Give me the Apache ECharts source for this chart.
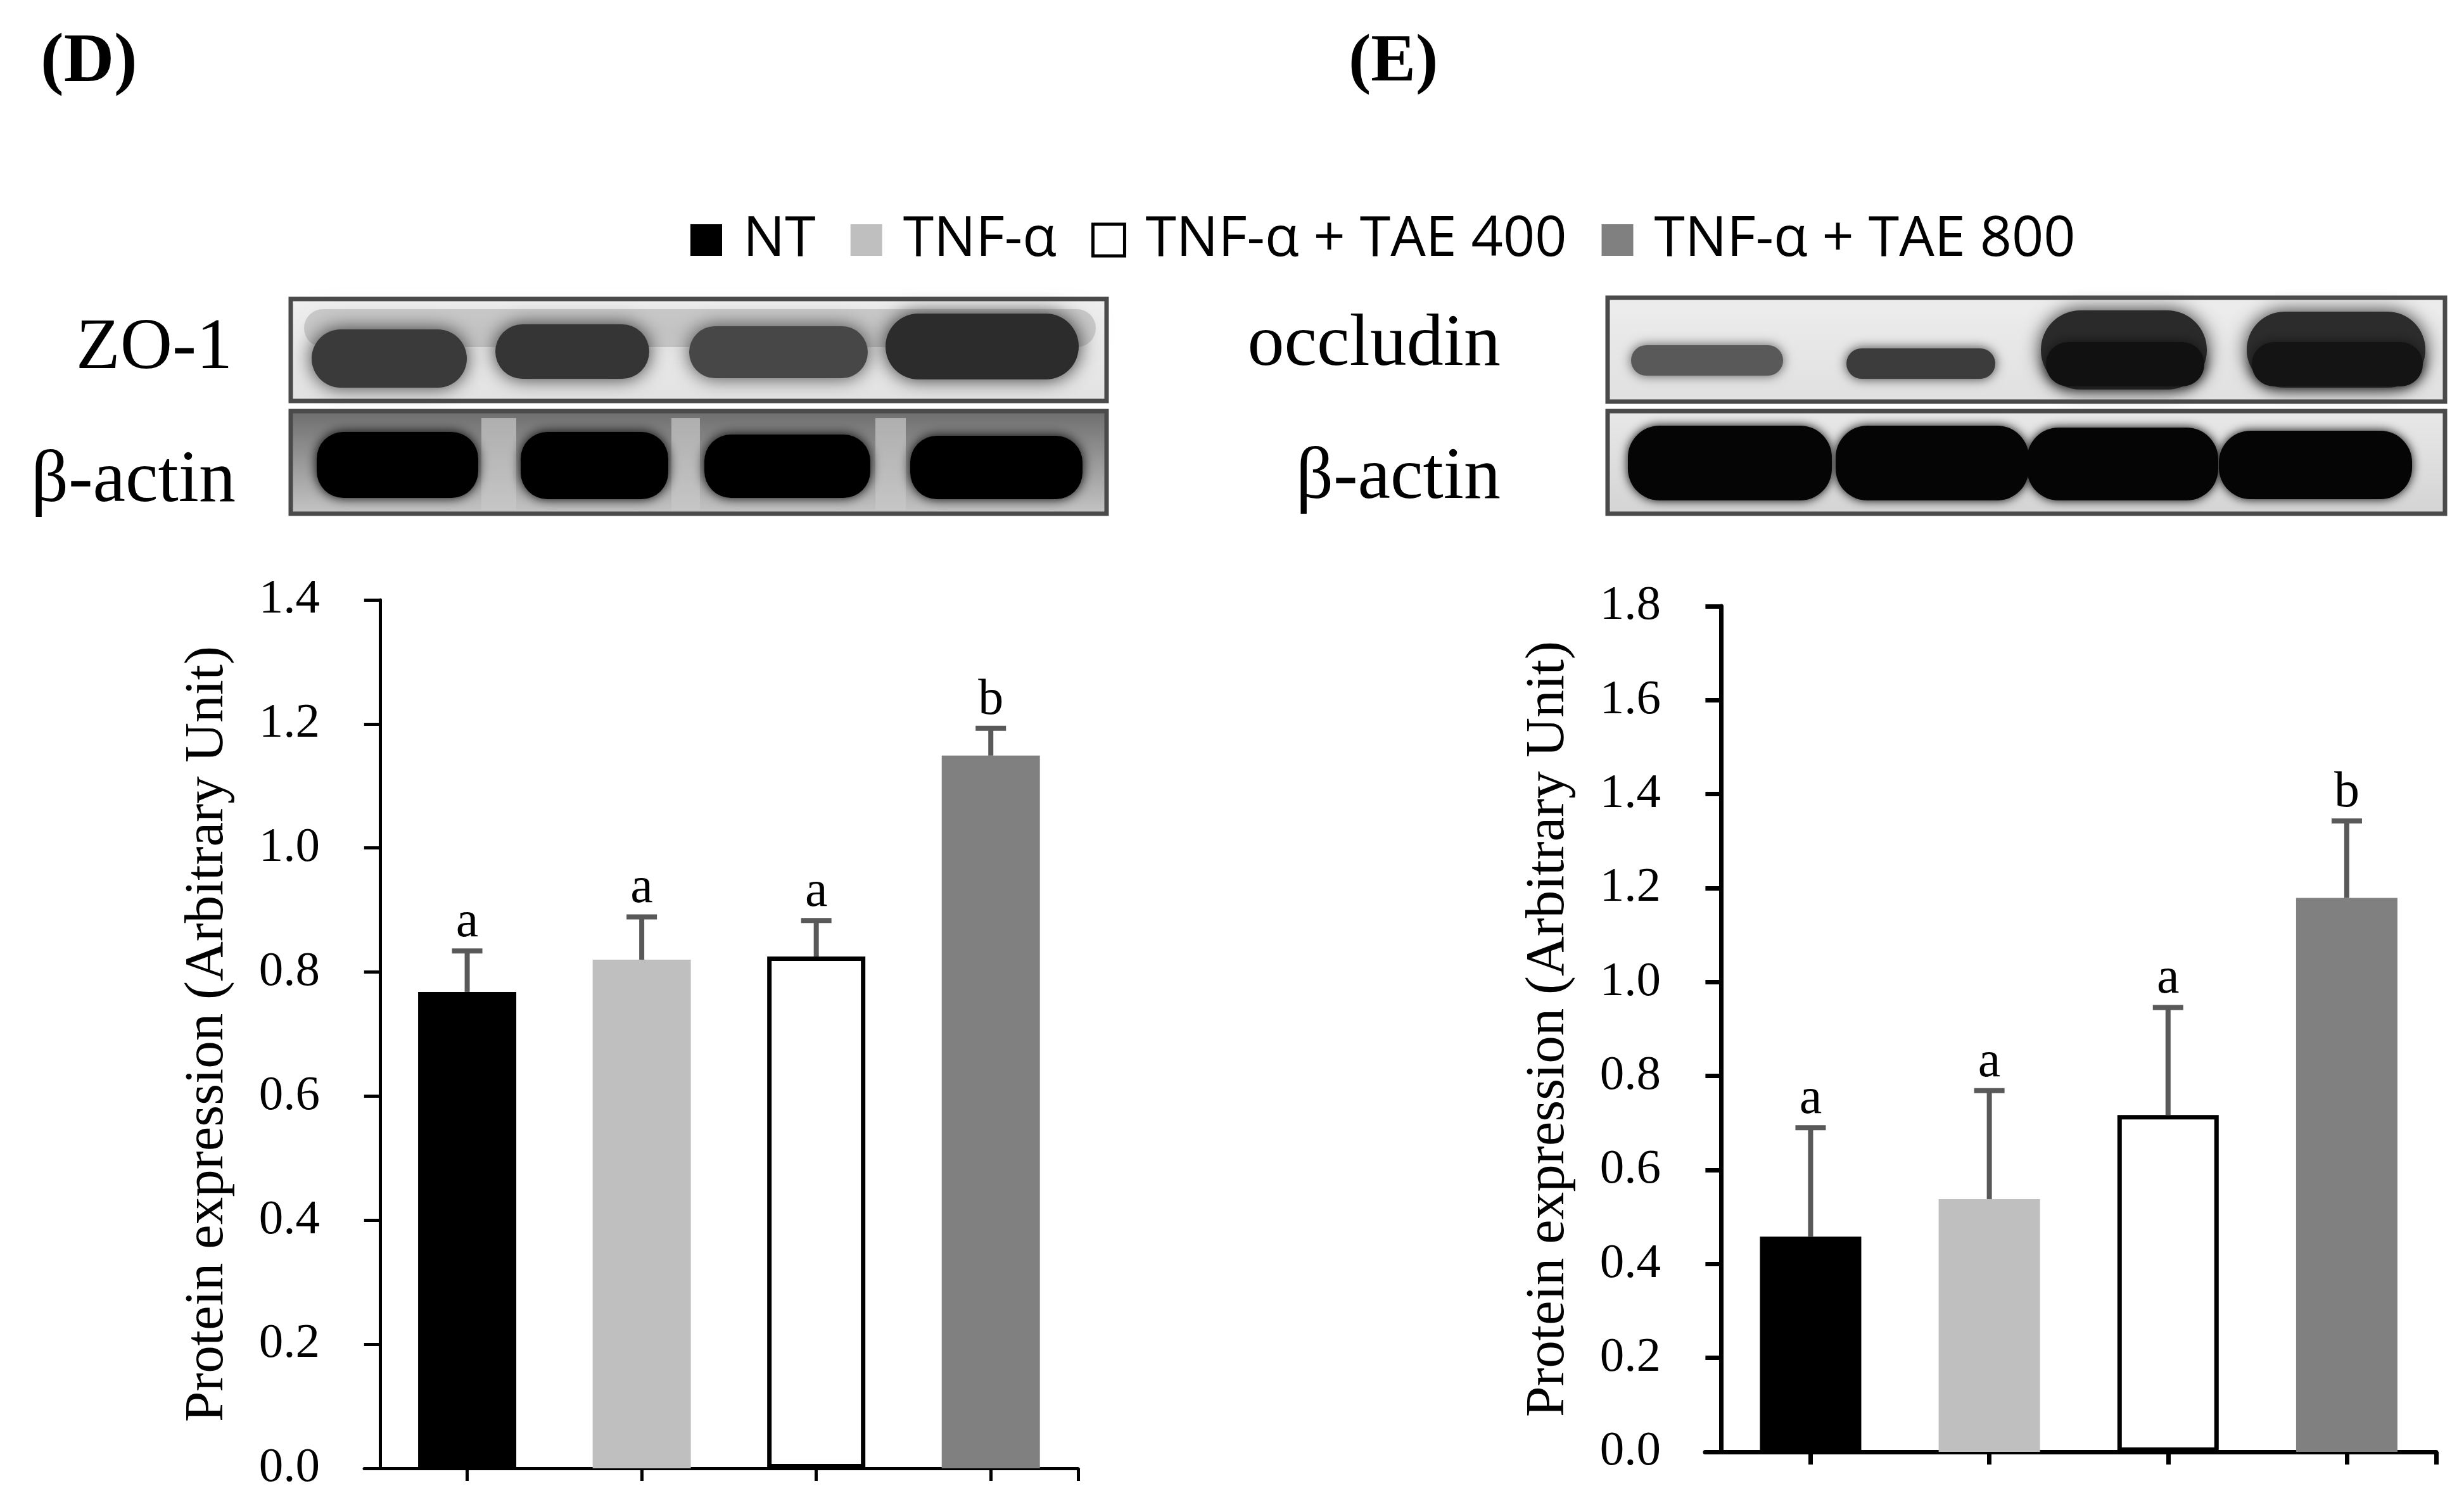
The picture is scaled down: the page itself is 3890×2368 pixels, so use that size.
<!DOCTYPE html>
<html><head><meta charset="utf-8">
<script src="https://cdn.jsdelivr.net/npm/echarts@6/dist/echarts.min.js"></script>
<style>html,body{margin:0;padding:0;background:#fff}#c{width:3890px;height:2368px}</style>
</head><body><div id="c"></div>
<script>
// ---- data ----
var groups = ['NT', 'TNF-α', 'TNF-α + TAE 400', 'TNF-α + TAE 800'];
var positions = [0.5, 1.5, 2.5, 3.5];
var zo1Mean = [0.768, 0.820, 0.825, 1.149];
var zo1Err = [0.066, 0.069, 0.058, 0.044];
var zo1Letters = ['a', 'a', 'a', 'b'];
var occMean = [0.458, 0.538, 0.717, 1.179];
var occErr = [0.232, 0.231, 0.229, 0.164];
var occLetters = ['a', 'a', 'a', 'b'];
var zo1Axis = { min: 0, max: 1.4, interval: 0.2 };
var occAxis = { min: 0, max: 1.8, interval: 0.2 };
var xTickValues = [0.5, 1.5, 2.5, 3.5, 4];
var yTitle = 'Protein expression (Arbitrary Unit)';

var fills = ['#000000', '#BFBFBF', '#FFFFFF', '#808080'];
var SERIF = 'Liberation Serif';

function barSeries(ci, means, bw) {
  return groups.map(function (name, i) {
    return {
      type: 'bar', name: name, xAxisIndex: ci, yAxisIndex: ci,
      barWidth: bw, barGap: '-100%',
      data: [[positions[i], means[i]]],
      itemStyle: { color: fills[i], borderColor: i === 2 ? '#000' : fills[i], borderWidth: i === 2 ? 7 : 0 },
      z: 2, silent: true
    };
  });
}
function errSeries(ci, means, errs, letters, lw) {
  return {
    type: 'custom', xAxisIndex: ci, yAxisIndex: ci, z: 5, silent: true,
    data: means.map(function (m, i) { return [positions[i], m, errs[i]]; }),
    encode: { x: 0, y: 1 },
    renderItem: function (params, api) {
      var x = api.value(0), m = api.value(1), e = api.value(2);
      var p0 = api.coord([x, m]), p1 = api.coord([x, m + e]);
      return { type: 'group', children: [
        { type: 'line', shape: { x1: p0[0], y1: p0[1], x2: p1[0], y2: p1[1] }, style: { stroke: '#595959', lineWidth: lw } },
        { type: 'line', shape: { x1: p1[0] - 24, y1: p1[1], x2: p1[0] + 24, y2: p1[1] }, style: { stroke: '#595959', lineWidth: lw } },
        { type: 'text', x: p1[0], y: p1[1] - 4, style: { text: letters[params.dataIndex], align: 'center', verticalAlign: 'bottom', fontFamily: SERIF, fontSize: 80, fill: '#000' } }
      ] };
    }
  };
}
function yAxis(gi, ax, lw) {
  return {
    type: 'value', gridIndex: gi, min: ax.min, max: ax.max, interval: ax.interval,
    name: yTitle, nameLocation: 'middle', nameGap: 203, nameRotate: 90, nameMoveOverlap: false,
    nameTextStyle: { fontFamily: SERIF, fontSize: 87, color: '#000' },
    axisLine: { show: true, onZero: true, lineStyle: { color: '#000', width: lw } },
    axisTick: { show: true, inside: false, length: 25, lineStyle: { color: '#000', width: lw } },
    axisLabel: { margin: 70, fontFamily: SERIF, fontSize: 77, color: '#000', formatter: function (v) { return v.toFixed(1); } },
    splitLine: { show: false }
  };
}
function xAxis(gi, lw) {
  return {
    type: 'value', gridIndex: gi, min: -0.09, max: 4,
    axisLine: { show: true, lineStyle: { color: '#000', width: lw } },
    axisTick: { show: true, inside: false, length: 20, customValues: xTickValues, lineStyle: { color: '#000', width: lw } },
    axisLabel: { show: false }, splitLine: { show: false }
  };
}
function blob(x, y, w, h, color, blur, r) {
  return { type: 'rect', silent: true, shape: { x: x, y: y, width: w, height: h, r: r == null ? h / 2 : r },
    style: { fill: color, shadowBlur: blur, shadowColor: color } };
}
function box(x, y, w, h, fill) {
  return { type: 'rect', silent: true, shape: { x: x, y: y, width: w, height: h }, style: { fill: fill } };
}
function frame(x, y, w, h) {
  return { type: 'rect', silent: true, shape: { x: x, y: y, width: w, height: h }, style: { fill: 'none', stroke: '#4a4a4a', lineWidth: 7 } };
}
function label(text, x, y, size) {
  return { type: 'text', silent: true, x: x, y: y, style: { text: text, align: 'right', verticalAlign: 'middle',
    fontFamily: SERIF, fontSize: size, fill: '#000' } };
}
function grad(c1, c2) {
  return { type: 'linear', x: 0, y: 0, x2: 0, y2: 1, colorStops: [{ offset: 0, color: c1 }, { offset: 1, color: c2 }] };
}

var graphics = [
  // ZO-1 blot
  box(459, 472, 1288, 161, grad('#f0f0f0', '#e2e2e2')),
  blob(480, 488, 1250, 60, 'rgba(140,140,140,0.35)', 40),
  blob(492, 520, 245, 92, '#3a3a3a', 30),
  blob(782, 512, 243, 86, '#353535', 30),
  blob(1088, 515, 282, 82, '#474747', 30),
  blob(1398, 495, 305, 104, '#2c2c2c', 30),
  frame(459, 472, 1288, 161),
  // beta-actin (left)
  box(459, 649, 1288, 162, grad('#6e6e6e', '#c4c4c4')),
  box(760, 660, 55, 145, 'rgba(200,200,200,0.7)'),
  box(1060, 660, 45, 145, 'rgba(200,200,200,0.7)'),
  box(1382, 660, 48, 145, 'rgba(200,200,200,0.7)'),
  blob(500, 682, 255, 104, '#000', 18, 42),
  blob(822, 682, 233, 106, '#000', 18, 42),
  blob(1112, 686, 262, 100, '#000', 18, 42),
  blob(1437, 688, 272, 100, '#000', 18, 42),
  frame(459, 649, 1288, 162),
  // occludin blot
  box(2538, 470, 1322, 164, grad('#ededed', '#e0e0e0')),
  blob(2575, 545, 240, 48, '#595959', 18),
  blob(2915, 550, 235, 48, '#3c3c3c', 18),
  blob(3222, 490, 262, 125, '#2a2a2a', 30),
  blob(3230, 540, 250, 70, '#111', 20),
  blob(3547, 492, 282, 120, '#2c2c2c', 30),
  blob(3555, 540, 270, 70, '#141414', 20),
  frame(2538, 470, 1322, 164),
  // beta-actin (right)
  box(2538, 649, 1322, 162, grad('#e8e8e8', '#d4d4d4')),
  blob(2570, 672, 322, 118, '#050505', 16, 50),
  blob(2898, 672, 305, 118, '#050505', 16, 50),
  blob(3200, 675, 302, 115, '#050505', 16, 50),
  blob(3503, 680, 305, 108, '#050505', 16, 50),
  frame(2538, 649, 1322, 162),
  // labels
  label('ZO-1', 367, 551, 114),
  label('β-actin', 372, 761, 116),
  label('occludin', 2369, 546, 116),
  label('β-actin', 2369, 756, 116),
  { type: 'text', silent: true, x: 64, y: 100, style: { text: '(D)', align: 'left', verticalAlign: 'middle', fontFamily: SERIF, fontSize: 110, fontWeight: 'bold', fill: '#000' } },
  { type: 'text', silent: true, x: 2129, y: 100, style: { text: '(E)', align: 'left', verticalAlign: 'middle', fontFamily: SERIF, fontSize: 106, fontWeight: 'bold', fill: '#000' } }
];

var chart = echarts.init(document.getElementById('c'));
chart.setOption({
  backgroundColor: '#fff',
  animation: false,
  legend: {
    left: 1085, top: 330, itemWidth: 50, itemHeight: 50, itemGap: 55, icon: 'rect', selectedMode: false,
    data: groups.map(function (g, i) { return i === 2 ? { name: g, itemStyle: { borderWidth: 5, borderColor: '#000' } } : { name: g }; }),
    textStyle: { fontFamily: 'Open Sans', fontSize: 88, color: '#000', lineHeight: 50, padding: [0, 0, 0, 28] }
  },
  grid: [
    { left: 575, top: 947, width: 1127, height: 1371 },
    { left: 2692, top: 957, width: 1154, height: 1335 }
  ],
  xAxis: [xAxis(0, 5), xAxis(1, 7)],
  yAxis: [yAxis(0, zo1Axis, 5), yAxis(1, occAxis, 7)],
  series: [].concat(
    barSeries(0, zo1Mean, 155),
    [errSeries(0, zo1Mean, zo1Err, zo1Letters, 8)],
    barSeries(1, occMean, 160),
    [errSeries(1, occMean, occErr, occLetters, 8)]
  ),
  graphic: graphics
});
</script></body></html>
